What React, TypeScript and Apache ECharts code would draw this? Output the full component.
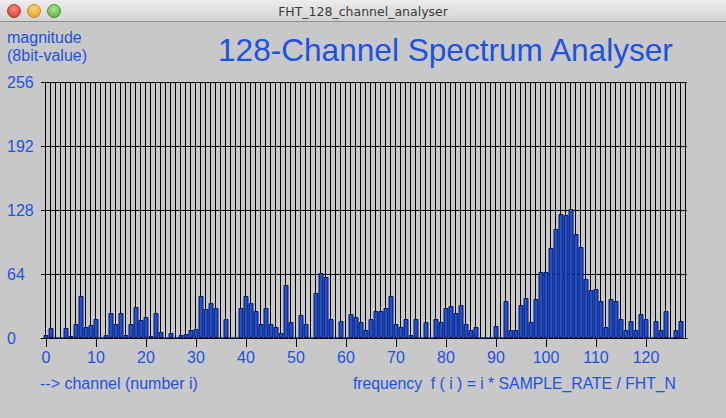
import React, { useEffect, useRef } from "react";
import * as echarts from "echarts";

const windowTitle = "FHT_128_channel_analyser";
const chartTitle = "128-Channel Spectrum Analyser";
const yAxisTitle = ["magnitude", "(8bit-value)"];
const xAxisTitle = "--> channel (number i)";
const formulaText = "frequency  f ( i ) = i * SAMPLE_RATE / FHT_N";

const channels: number[] = Array.from({ length: 128 }, (_, i) => i);
const gridChannels: number[] = Array.from({ length: 129 }, (_, i) => i);
const xTicks: number[] = [0, 10, 20, 30, 40, 50, 60, 70, 80, 90, 100, 110, 120];
const yTicks: number[] = [0, 64, 128, 192, 256];

const magnitudes: number[] = [
  3, 10, 0, 0, 10, 2, 14, 42, 11, 13, // 0-9
  19, 0, 3, 25, 14, 25, 3, 14, 31, 18, // 10-19
  21, 2, 25, 6, 0, 5, 0, 3, 4, 8, // 20-29
  9, 42, 29, 35, 30, 0, 19, 0, 0, 30, // 30-39
  42, 35, 27, 14, 30, 14, 11, 5, 53, 16, // 40-49
  0, 23, 14, 0, 45, 65, 61, 19, 0, 17, // 50-59
  0, 24, 21, 16, 8, 19, 27, 27, 30, 42, // 60-69
  14, 11, 19, 3, 19, 0, 16, 0, 19, 16, // 70-79
  30, 32, 25, 33, 14, 8, 11, 0, 0, 0, // 80-89
  12, 0, 37, 8, 8, 33, 40, 16, 39, 66, // 90-99
  66, 90, 109, 124, 123, 129, 104, 91, 59, 48, // 100-109
  49, 37, 11, 39, 37, 19, 8, 17, 8, 24, // 110-119
  19, 0, 17, 8, 27, 0, 8, 17, // 120-127
];

const BLUE = "#1c52e2";
const FONT = "'Liberation Sans', Arial, Helvetica, sans-serif";

export default function App() {
  const ref = useRef<HTMLDivElement>(null);

  useEffect(() => {
    document.body.style.margin = "0";
    if (!ref.current) return;
    const chart = echarts.init(ref.current, undefined, { renderer: "svg" });

    const option: any = {
      animation: false,
      backgroundColor: "#c8c8c8",
      textStyle: { fontFamily: FONT },
      grid: { left: 41, top: 82, width: 646, height: 256, containLabel: false },
      xAxis: {
        type: "value",
        min: -1,
        max: 128.2,
        axisLine: { show: true, lineStyle: { color: "#000", width: 1 } },
        axisTick: {
          show: true,
          customValues: xTicks,
          length: 9,
          lineStyle: { color: "#000", width: 1 },
        },
        axisLabel: {
          customValues: xTicks,
          color: BLUE,
          fontSize: 16,
          fontFamily: FONT,
          margin: 11,
        },
        splitLine: { show: false },
      },
      yAxis: {
        type: "value",
        min: 0,
        max: 256,
        interval: 64,
        axisLine: { show: false },
        axisTick: { show: false },
        axisLabel: {
          color: BLUE,
          fontSize: 16,
          fontFamily: FONT,
          align: "left",
          margin: 34,
          customValues: yTicks,
        },
        splitLine: { show: true, lineStyle: { color: "#000", width: 1 } },
      },
      series: [
        {
          type: "custom",
          z: 1,
          silent: true,
          data: gridChannels.map((c) => [c, 256]),
          encode: { x: 0, y: 1 },
          renderItem: (params: any, api: any) => {
            const x = api.value(0);
            const p0 = api.coord([x, 0]);
            const p1 = api.coord([x, 256]);
            const px = Math.floor(p0[0]) - 0.5;
            return {
              type: "line",
              shape: { x1: px, y1: p0[1], x2: px, y2: p1[1] },
              style: { stroke: "#000", lineWidth: 1 },
            };
          },
        },
        {
          type: "bar",
          z: 3,
          barWidth: 5,
          data: channels.map((c, i) => [c, magnitudes[i]]),
          itemStyle: { color: "#1a4de0", borderColor: "#0b1a48", borderWidth: 1 },
        },
      ],
      graphic: [
        {
          type: "rect",
          shape: { x: 0, y: 0, width: 726, height: 22 },
          style: {
            fill: new echarts.graphic.LinearGradient(0, 0, 0, 1, [
              { offset: 0, color: "#ededed" },
              { offset: 1, color: "#d2d2d2" },
            ]),
          },
          z: 10,
        },
        {
          type: "line",
          shape: { x1: 0, y1: 21.5, x2: 726, y2: 21.5 },
          style: { stroke: "#8e8e8e", lineWidth: 1 },
          z: 11,
        },
        ...[
          ["#f58a84", "#d8362f", "#a8281f"],
          ["#fbd27a", "#e8a21c", "#b57a10"],
          ["#b2e58e", "#55b03a", "#3b8427"],
        ].map((c, k) => ({
          type: "circle",
          shape: { cx: 14 + 20 * k, cy: 11, r: 6.5 },
          style: {
            fill: new echarts.graphic.RadialGradient(0.5, 0.35, 0.7, [
              { offset: 0, color: c[0] },
              { offset: 1, color: c[1] },
            ]),
            stroke: c[2],
            lineWidth: 0.8,
          },
          z: 12,
        })),
        {
          type: "text",
          x: 363,
          y: 11,
          style: {
            text: windowTitle,
            fill: "#3a3a3a",
            font: "12.5px 'DejaVu Sans', sans-serif",
            align: "center",
            verticalAlign: "middle",
          },
          z: 12,
        },
        {
          type: "text",
          x: 7,
          y: 37,
          style: {
            text: yAxisTitle[0],
            fill: BLUE,
            font: `16px ${FONT}`,
            align: "left",
            verticalAlign: "middle",
          },
        },
        {
          type: "text",
          x: 7,
          y: 55,
          style: {
            text: yAxisTitle[1],
            fill: BLUE,
            font: `16px ${FONT}`,
            align: "left",
            verticalAlign: "middle",
          },
        },
        {
          type: "text",
          x: 218,
          y: 50,
          style: {
            text: chartTitle,
            fill: BLUE,
            font: `31.6px ${FONT}`,
            align: "left",
            verticalAlign: "middle",
          },
        },
        {
          type: "text",
          x: 40,
          y: 383,
          style: {
            text: xAxisTitle,
            fill: BLUE,
            font: `16px ${FONT}`,
            align: "left",
            verticalAlign: "middle",
          },
        },
        {
          type: "text",
          x: 676,
          y: 383,
          style: {
            text: formulaText,
            fill: BLUE,
            font: `15.75px ${FONT}`,
            align: "right",
            verticalAlign: "middle",
          },
        },
      ],
    };

    chart.setOption(option);
    return () => chart.dispose();
  }, []);

  return (
    <div
      ref={ref}
      style={{ position: "absolute", left: 0, top: 0, width: 726, height: 418 }}
    />
  );
}
